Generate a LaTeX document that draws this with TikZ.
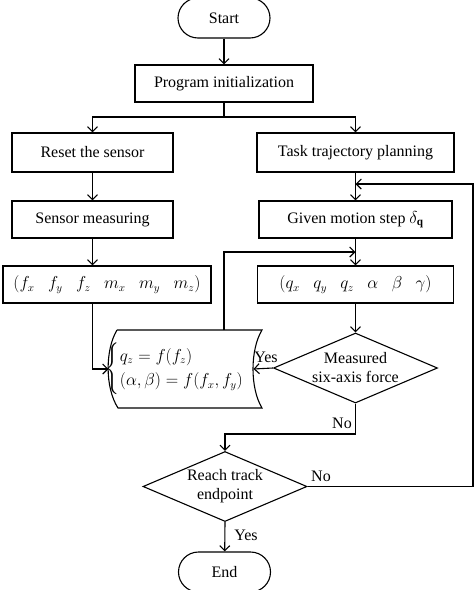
\documentclass[tikz,border=0pt]{standalone}
\usepackage{amsmath}
\usepackage{fontspec}
\setmainfont{Liberation Serif}
\usetikzlibrary{arrows.meta,shapes.geometric}
\newcommand\gapq{\mkern14mu}
\begin{document}
\begin{tikzpicture}[x=1pt,y=-1pt,
 every node/.style={font=\fontsize{16}{19}\selectfont},
 box/.style={draw,line width=1.1pt,rectangle,inner sep=0pt},
 term/.style={draw,line width=1.1pt,rounded corners=20pt,minimum width=92pt,minimum height=40pt,inner sep=0pt},
 dec/.style={draw,line width=1.1pt,diamond,inner sep=0pt,minimum width=164pt,minimum height=70pt},
 arr/.style={line width=1.1pt,-{Straight Barb[length=5pt,width=10pt,line width=1.1pt]}},
 ln/.style={line width=1.1pt},
 lab/.style={inner sep=1pt}]
\useasboundingbox (0,0) rectangle (474,590);
\fill[white] (0,0) rectangle (474,590);

\node[term] (start) at (224,18) {Start};
\node[box,minimum width=178pt,minimum height=37pt] (init) at (224,83.5) {Program initialization};
\node[box,minimum width=161pt,minimum height=39pt] (reset) at (92.5,152.5) {Reset the sensor};
\node[box,minimum width=161pt,minimum height=37pt] (sensm) at (92.5,219.5) {Sensor measuring};
\node[box,minimum width=208pt,minimum height=37pt] (fbox) at (107,284.5) {$(f_x\gapq f_y\gapq f_z\gapq m_x\gapq m_y\gapq m_z)$};
\node[box,minimum width=197pt,minimum height=39pt] (task) at (355.5,152.5) {Task trajectory planning};
\node[box,minimum width=193pt,minimum height=37pt] (given) at (355.5,219.5) {Given motion step $\delta_{\mathbf{q}}$};
\node[box,minimum width=196pt,minimum height=37pt] (qbox) at (355.5,284.5) {$(q_x\gapq q_y\gapq q_z\gapq \alpha\gapq \beta\gapq \gamma)$};
\node[dec,label={[align=center,font=\fontsize{16}{19}\selectfont]center:Measured\\six-axis force}] (meas) at (355.5,368) {};
\node[dec,label={[align=center,font=\fontsize{16}{19}\selectfont]center:Reach track\\endpoint}] (reach) at (225,486.5) {};
\node[term] (end) at (224.5,572) {End};

% tape shape
\draw[ln] (117,330) -- (262,330) .. controls (250,350) and (250,388) .. (262,408) -- (118,408) .. controls (105,388) and (105,350) .. (117,330);
\node[inner sep=0pt] (tapetxt) at (183,369) {$\begin{cases} q_z = f(f_z)\\[2pt] (\alpha,\beta) = f(f_x,f_y)\end{cases}$};
\coordinate (tapeL) at (108.5,369);
\coordinate (tapeR) at (253.5,369);
\coordinate (tapeT) at (224,330);
\coordinate (br) at (224,117);
\coordinate (qin) at (355.5,252);
\coordinate (fbin) at (355.5,184);
\coordinate (rr) at (473,486.5);
\coordinate (nob) at (355.5,434);

\draw[arr] (start) -- (init);
\draw[ln] (init.south) -- (br);
\draw[arr] (br) -| (reset.north);
\draw[arr] (br) -| (task.north);
\draw[arr] (reset) -- (sensm);
\draw[arr] (sensm.south) -- (sensm.south |- fbox.north);
\draw[arr] (task) -- (given);
\draw[arr] (given) -- (qbox);
\draw[arr] (fbox.south -| sensm.south) |- (tapeL);
\draw[arr] (tapeT) |- (qin);
\draw[arr] (qbox) -- (meas);
\draw[arr] (meas.west) -- (tapeR);
\node[lab] at (266,357) {Yes};
\draw[ln] (meas.south) -- (nob);
\draw[arr] (nob) -| (reach.north);
\node[lab] at (342,423) {No};
\draw[ln] (reach.east) -- (rr);
\draw[arr] (rr) |- (fbin);
\node[lab] at (321,476) {No};
\draw[arr] (reach.south) -- (end);
\node[lab] at (246,535) {Yes};
\end{tikzpicture}
\end{document}
